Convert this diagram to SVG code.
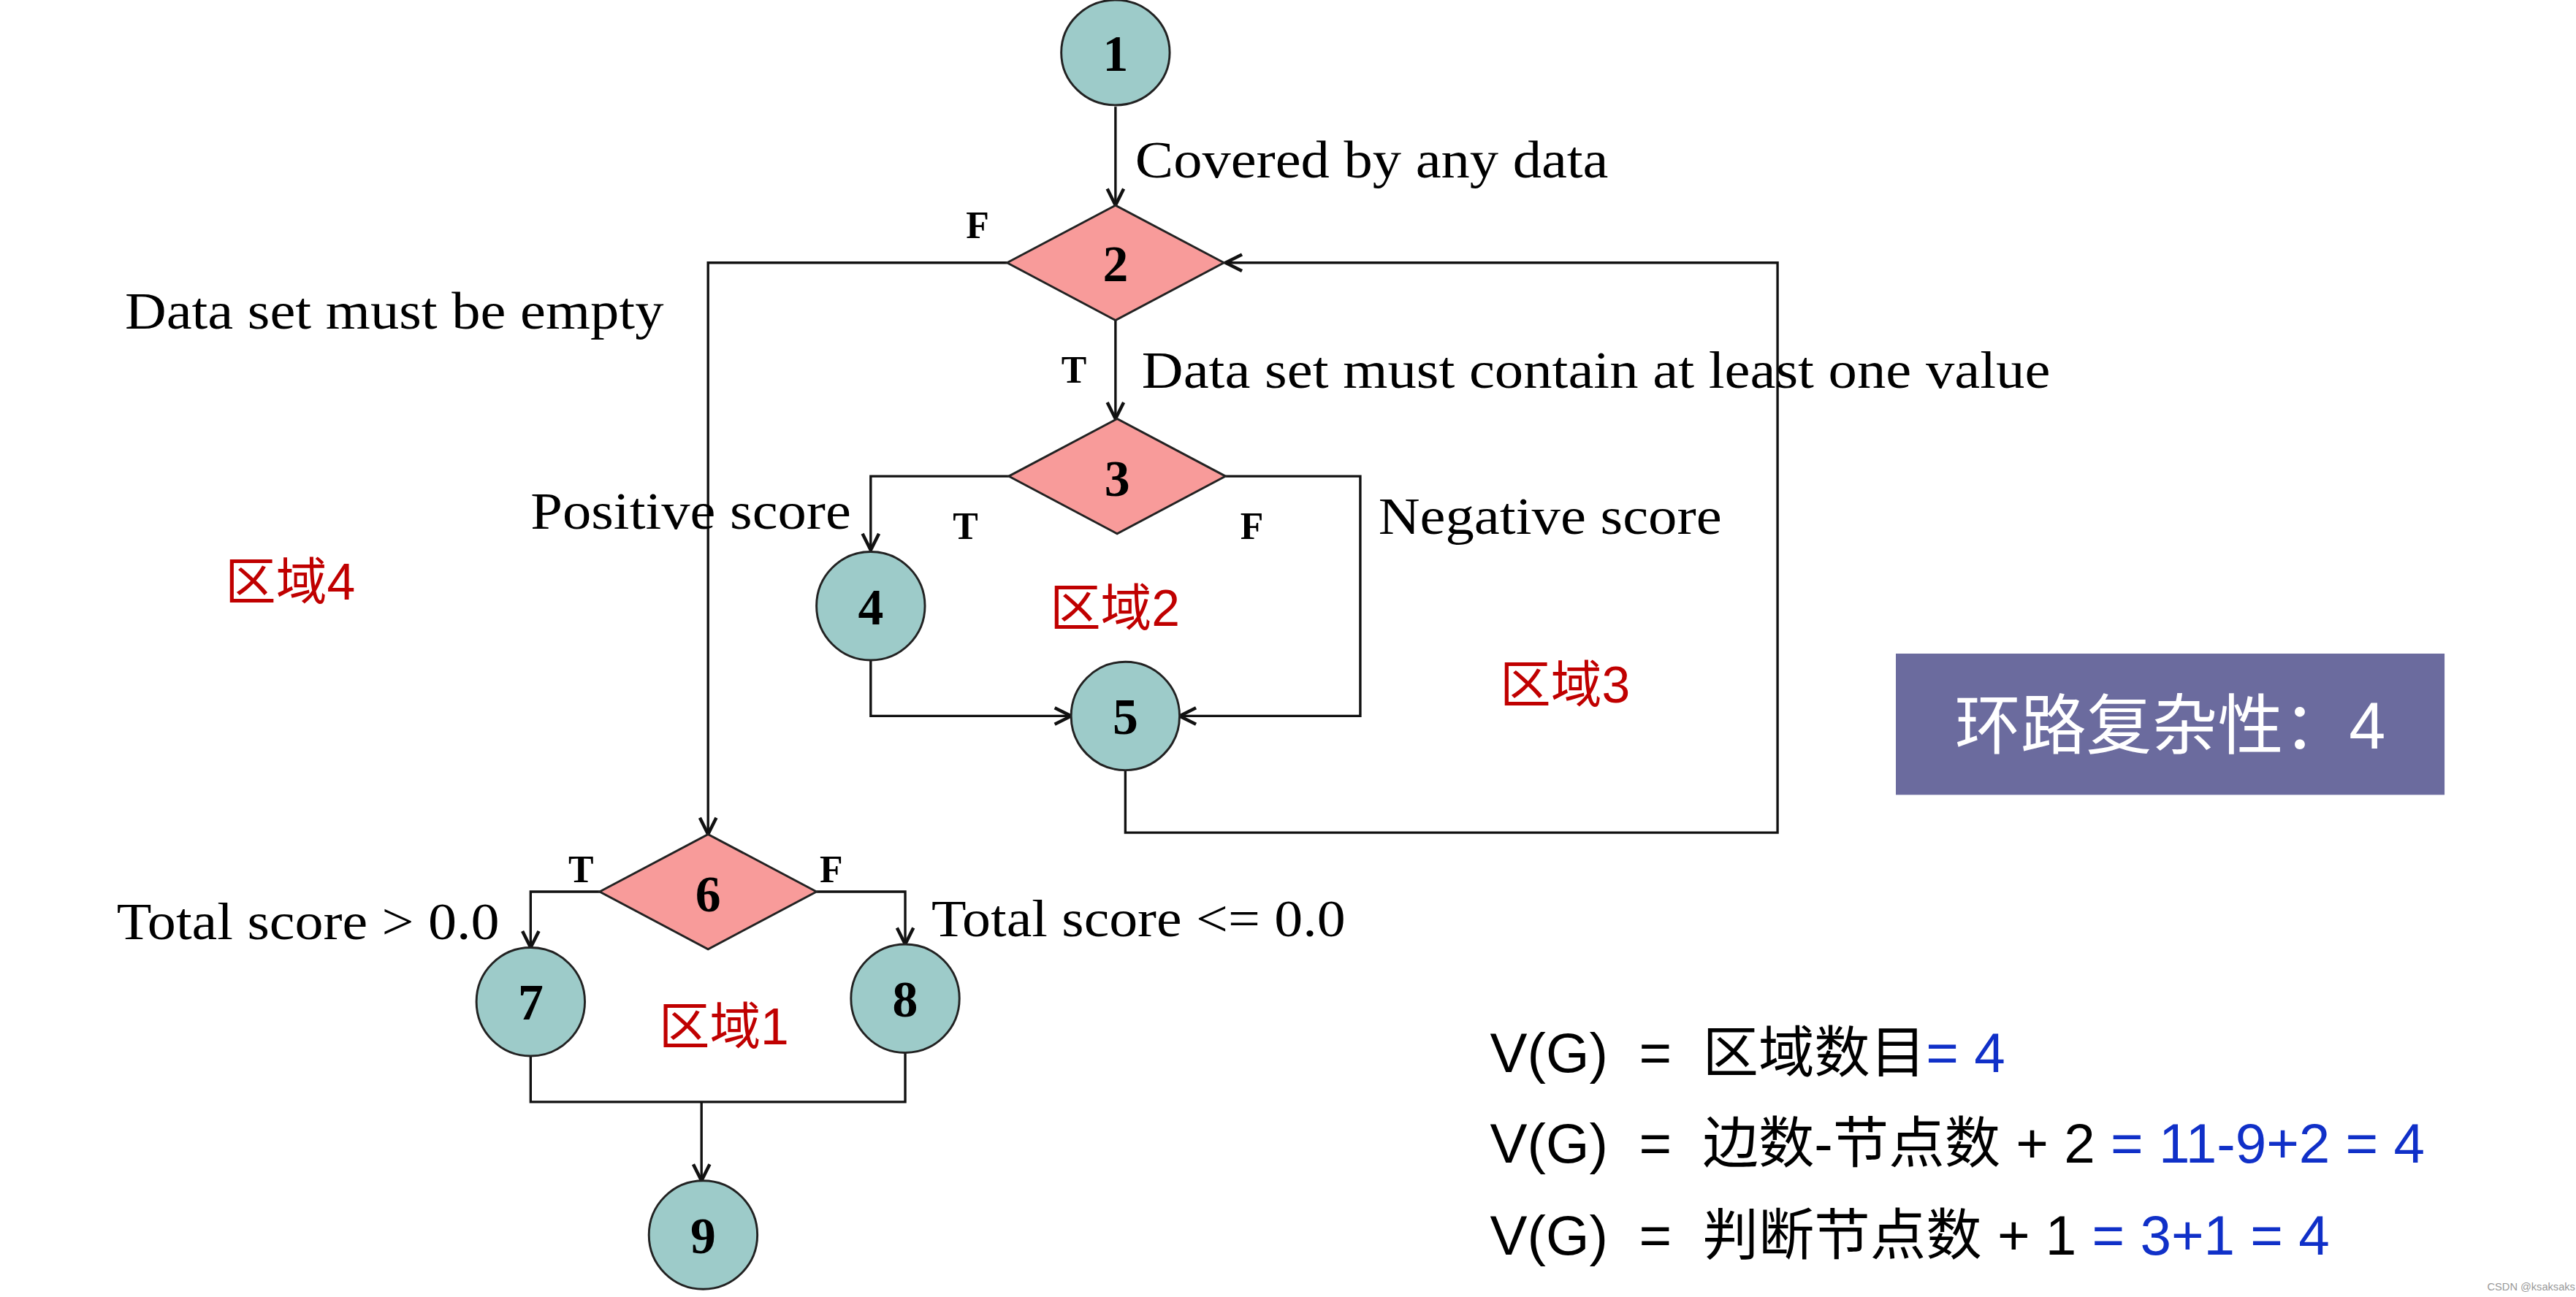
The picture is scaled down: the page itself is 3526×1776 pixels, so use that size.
<svg xmlns="http://www.w3.org/2000/svg" width="3526" height="1776" viewBox="0 0 3526 1776">
<style>
.c{fill:#9dcbc9;stroke:#222;stroke-width:1.3}
.d{fill:#f89b9a;stroke:#222;stroke-width:1.3}
.n{font-family:"Liberation Serif",serif;font-weight:bold;font-size:31px;text-anchor:middle}
.l{font-family:"Liberation Serif",serif;font-size:32px}
.b{font-family:"Liberation Serif",serif;font-weight:bold;font-size:23px}
.r{font-family:"Liberation Sans","Noto Sans CJK SC",sans-serif;font-size:31px;fill:#c00000}
.f{font-family:"Liberation Sans","Noto Sans CJK SC",sans-serif;font-size:34px}
.bl{fill:#1030c8}
.e{fill:none;stroke:#111;stroke-width:1.5}
</style>
<defs><marker id="a" viewBox="0 0 12 12" refX="11" refY="6" markerWidth="12" markerHeight="12" markerUnits="userSpaceOnUse" orient="auto"><path d="M1,1 L11,6 L1,11" fill="none" stroke="#111" stroke-width="2"/></marker></defs>
<rect width="3526" height="1776" fill="#fff"/>
<g transform="scale(2.2487)">
<g id="connectors">
<path class="e" d="M679,65 V125" marker-end="url(#a)"/>
<path class="e" d="M613,160 H431 V508" marker-end="url(#a)"/>
<path class="e" d="M679,195 V255" marker-end="url(#a)"/>
<path class="e" d="M614,290 H530 V335" marker-end="url(#a)"/>
<path class="e" d="M746,290 H828 V436 H718" marker-end="url(#a)"/>
<path class="e" d="M530,402 V436 H652" marker-end="url(#a)"/>
<path class="e" d="M685,469 V507 H1082 V160 H746" marker-end="url(#a)"/>
<path class="e" d="M365,543 H323 V577" marker-end="url(#a)"/>
<path class="e" d="M497,543 H551 V575" marker-end="url(#a)"/>
<path class="e" d="M323,643 V671 H551 V641"/>
<path class="e" d="M427,671 V719" marker-end="url(#a)"/>
</g>
<g id="n1"><ellipse class="c" cx="679" cy="32" rx="33" ry="32"/><text class="n" x="679" y="43">1</text></g>
<g id="n2"><polygon class="d" points="613,160 679,125 745,160 679,195"/><text class="n" x="679" y="171">2</text></g>
<g id="n3"><polygon class="d" points="614,290 680,255 746,290 680,325"/><text class="n" x="680" y="302">3</text></g>
<g id="n4"><ellipse class="c" cx="530" cy="369" rx="33" ry="33"/><text class="n" x="530" y="380">4</text></g>
<g id="n5"><ellipse class="c" cx="685" cy="436" rx="33" ry="33"/><text class="n" x="685" y="447">5</text></g>
<g id="n6"><polygon class="d" points="365,543 431,508 497,543 431,578"/><text class="n" x="431" y="555">6</text></g>
<g id="n7"><ellipse class="c" cx="323" cy="610" rx="33" ry="33"/><text class="n" x="323" y="621">7</text></g>
<g id="n8"><ellipse class="c" cx="551" cy="608" rx="33" ry="33"/><text class="n" x="551" y="619">8</text></g>
<g id="n9"><ellipse class="c" cx="428" cy="752" rx="33" ry="33"/><text class="n" x="428" y="763">9</text></g>
<g id="labels">
<text class="l" x="691" y="108" textLength="288" lengthAdjust="spacingAndGlyphs">Covered by any data</text>
<text class="b" x="588" y="145">F</text>
<text class="l" x="76" y="200" textLength="328" lengthAdjust="spacingAndGlyphs">Data set must be empty</text>
<text class="b" x="646" y="233">T</text>
<text class="l" x="695" y="236" textLength="553" lengthAdjust="spacingAndGlyphs">Data set must contain at least one value</text>
<text class="l" x="323" y="322" textLength="195" lengthAdjust="spacingAndGlyphs">Positive score</text>
<text class="b" x="580" y="328">T</text>
<text class="b" x="755" y="328">F</text>
<text class="l" x="839" y="325" textLength="209" lengthAdjust="spacingAndGlyphs">Negative score</text>
<text class="b" x="346" y="537">T</text>
<text class="b" x="499" y="537">F</text>
<text class="l" x="71" y="572" textLength="233" lengthAdjust="spacingAndGlyphs">Total score &gt; 0.0</text>
<text class="l" x="567" y="570" textLength="252" lengthAdjust="spacingAndGlyphs">Total score &lt;= 0.0</text>
<text class="r" x="137" y="365">区域4</text>
<text class="r" x="639" y="381">区域2</text>
<text class="r" x="913" y="428">区域3</text>
<text class="r" x="401" y="636">区域1</text>
</g>
<g id="box"><rect x="1154" y="398" width="334" height="86" fill="#6b6b9e"/><text x="1321" y="456" text-anchor="middle" fill="#fff" font-family="'Liberation Sans','Noto Sans CJK SC',sans-serif" font-size="40">环路复杂性：4</text></g>
<g id="formulas">
<text class="f" x="907" y="653" xml:space="preserve">V(G)  =  区域数目<tspan class="bl">= 4</tspan></text>
<text class="f" x="907" y="708" xml:space="preserve">V(G)  =  边数-节点数 + 2 <tspan class="bl">= 11-9+2 = 4</tspan></text>
<text class="f" x="907" y="764" xml:space="preserve">V(G)  =  判断节点数 + 1 <tspan class="bl">= 3+1 = 4</tspan></text>
</g>
<text x="1514" y="786" font-family="'Liberation Sans',sans-serif" font-size="6.5" fill="#999">CSDN @ksaksaks</text>
</g>
</svg>
